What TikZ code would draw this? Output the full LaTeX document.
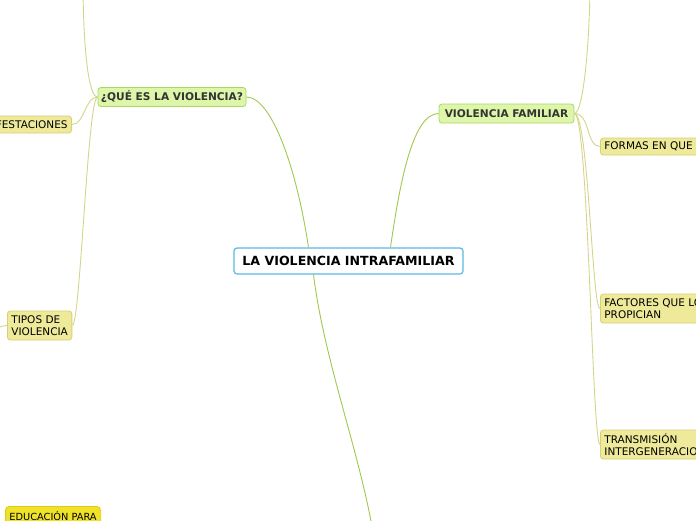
\documentclass[tikz,border=0pt]{standalone}
\usepackage{fontspec}
\setmainfont{DejaVu Sans}
\definecolor{mainblue}{RGB}{92,184,230}
\definecolor{topicfill}{RGB}{221,246,170}
\definecolor{topicborder}{RGB}{170,215,100}
\definecolor{subfill}{RGB}{238,234,154}
\definecolor{subborder}{RGB}{214,208,120}
\definecolor{edufill}{RGB}{240,226,40}
\definecolor{eduborder}{RGB}{220,205,20}
\definecolor{darktext}{RGB}{51,51,51}
\definecolor{mainline}{RGB}{160,200,80}
\definecolor{subline}{RGB}{212,212,140}
\begin{document}
\begin{tikzpicture}[x=1pt,y=-1pt,
  mainbox/.style={draw=mainblue, fill=white, line width=1.2pt, rounded corners=3pt,
    font=\fontsize{12.6}{14}\selectfont\bfseries, inner sep=0pt, minimum width=229pt, minimum height=26pt},
  topicbox/.style={draw=topicborder, fill=topicfill, line width=0.8pt, rounded corners=3pt,
    font=\fontsize{10.6}{12}\selectfont\bfseries, text=darktext, inner sep=0pt, minimum height=19pt},
  subbox/.style={draw=subborder, fill=subfill, line width=0.8pt, rounded corners=3pt,
    font=\fontsize{10.5}{12}\selectfont, align=left, inner xsep=4pt, inner ysep=0pt, text=black},
  edubox/.style={draw=eduborder, fill=edufill, line width=0.8pt, rounded corners=4pt,
    font=\fontsize{9.8}{11}\selectfont, align=left, inner xsep=4pt, inner ysep=5pt, text=black},
  mainedge/.style={draw=mainline, line width=0.9pt},
  subedge/.style={draw=subline, line width=0.9pt}
]
\useasboundingbox (0,0) rectangle (696,520);
\clip (0,0) rectangle (696,520);

% off-screen ends
\coordinate (qtop) at (83,-20);
\coordinate (vtop) at (590,-20);
\coordinate (cbot) at (377,560);
\coordinate (tleft) at (-15,331);

% nodes
\node[mainbox] (central) at (348.5,261) {LA VIOLENCIA INTRAFAMILIAR};
\node[topicbox, minimum width=148pt] (que) at (172,97) {¿QUÉ ES LA VIOLENCIA?};
\node[topicbox, minimum width=135pt] (vf) at (506.5,113.5) {VIOLENCIA FAMILIAR};
\node[subbox, minimum height=17pt, anchor=east] (man) at (72,124.5) {MANIFESTACIONES};
\node[subbox, minimum height=29pt, anchor=west] (tipos) at (7,325.5) {TIPOS DE\\VIOLENCIA};
\node[subbox, minimum height=17pt, anchor=west] (formas) at (600,146.5) {FORMAS EN QUE APARECE};
\node[subbox, minimum height=29pt, anchor=west] (fact) at (600,308.5) {FACTORES QUE LO\\PROPICIAN};
\node[subbox, minimum height=29pt, anchor=west] (trans) at (600,444.5) {TRANSMISIÓN\\INTERGENERACIONAL};
\node[edubox, anchor=north west] (edu) at (5,506) {EDUCACIÓN PARA};

% main connectors
\draw[mainedge] ([xshift=-40pt]central.north) .. controls +(-12,-80) and +(25,0) .. (que.east);
\draw[mainedge] ([xshift=42pt]central.north) .. controls +(10,-70) and +(-25,0) .. (vf.west);
\draw[mainedge] ([xshift=-35pt]central.south) .. controls +(12,96) and +(-10,-90) .. (cbot);

% sub connectors (left)
\draw[subedge] (que.west) .. controls +(-10,0) and +(0,60) .. (qtop);
\draw[subedge] (que.west) .. controls +(-13,0) and +(13,0) .. (man.east);
\draw[subedge] (que.west) .. controls +(-10,0) and +(8,0) .. (tipos.east);
\draw[subedge] (tipos.west) .. controls +(-6,0) and +(6,0) .. (tleft);

% sub connectors (right)
\draw[subedge] (vf.east) .. controls +(9,0) and +(0,60) .. (vtop);
\draw[subedge] (vf.east) .. controls +(16,0) and +(-14,0) .. (formas.west);
\draw[subedge] (vf.east) .. controls +(14,0) and +(-8,0) .. (fact.west);
\draw[subedge] (vf.east) .. controls +(14,0) and +(-8,0) .. (trans.west);
\end{tikzpicture}
\end{document}
